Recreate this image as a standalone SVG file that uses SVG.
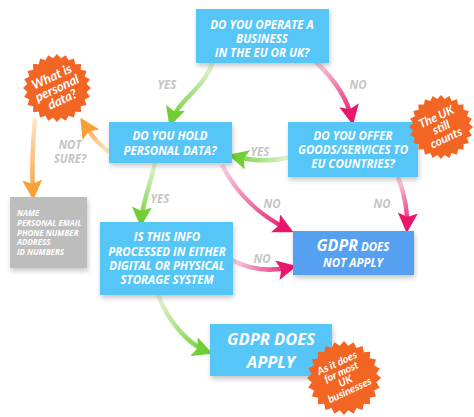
<svg xmlns="http://www.w3.org/2000/svg" width="474" height="417" viewBox="0 0 474 417">
<style>
.box{fill:#55C6F7}
.boxd{fill:#56A0F2}
.grey{fill:#BDBDBD}
.t{font-family:"Open Sans","DejaVu Sans",sans-serif;font-weight:bold;font-style:italic;fill:#fff;text-anchor:middle;font-size:11.5px}
.big{font-size:16.5px}
.g{font-family:"Open Sans","DejaVu Sans",sans-serif;font-weight:bold;font-style:italic;fill:#fff;font-size:8px}
.lab{font-family:"Open Sans","DejaVu Sans",sans-serif;font-weight:bold;font-style:italic;fill:#C4C4C4;text-anchor:middle;font-size:11.5px}
.s{font-family:"Lato","DejaVu Sans",sans-serif;font-weight:bold;font-style:italic;fill:#fff;text-anchor:middle}
.c{fill:none;stroke-width:4.5}
.burst{fill:#F26522}
</style>
<defs>
<filter id="sh" x="-20%" y="-20%" width="140%" height="150%"><feDropShadow dx="1" dy="3" stdDeviation="2.5" flood-color="#000" flood-opacity="0.22"/></filter>
<polygon id="burst" points="100,0 87.2,11.5 96.6,25.9 81.3,33.7 86.6,50 69.8,53.6 70.7,70.7 53.6,69.8 50,86.6 33.7,81.3 25.9,96.6 11.5,87.2 0,100 -11.5,87.2 -25.9,96.6 -33.7,81.3 -50,86.6 -53.6,69.8 -70.7,70.7 -69.8,53.6 -86.6,50 -81.3,33.7 -96.6,25.9 -87.2,11.5 -100,0 -87.2,-11.5 -96.6,-25.9 -81.3,-33.7 -86.6,-50 -69.8,-53.6 -70.7,-70.7 -53.6,-69.8 -50,-86.6 -33.7,-81.3 -25.9,-96.6 -11.5,-87.2 0,-100 11.5,-87.2 25.9,-96.6 33.7,-81.3 50,-86.6 53.6,-69.8 70.7,-70.7 69.8,-53.6 86.6,-50 81.3,-33.7 96.6,-25.9 87.2,-11.5"/>
<marker id="ag" markerUnits="userSpaceOnUse" markerWidth="22" markerHeight="22" refX="15" refY="10" orient="auto"><path d="M0,0 L20,10 L0,20 L4,10 z" fill="#6FCF35"/></marker>
<marker id="ap" markerUnits="userSpaceOnUse" markerWidth="22" markerHeight="22" refX="15" refY="10" orient="auto"><path d="M0,0 L20,10 L0,20 L4,10 z" fill="#E8176B"/></marker>
<marker id="ao" markerUnits="userSpaceOnUse" markerWidth="22" markerHeight="22" refX="15" refY="10" orient="auto"><path d="M0,0 L20,10 L0,20 L4,10 z" fill="#F8A035"/></marker>
<linearGradient id="g1" gradientUnits="userSpaceOnUse" x1="213" y1="62" x2="171" y2="123"><stop offset="0" stop-color="#E4F5D6"/><stop offset="1" stop-color="#6FCF35"/></linearGradient>
<linearGradient id="g2" gradientUnits="userSpaceOnUse" x1="316" y1="62" x2="352" y2="121"><stop offset="0" stop-color="#F6D3E1"/><stop offset="1" stop-color="#E8176B"/></linearGradient>
<linearGradient id="g3" gradientUnits="userSpaceOnUse" x1="290" y1="157" x2="232" y2="156"><stop offset="0" stop-color="#E4F5D6"/><stop offset="1" stop-color="#6FCF35"/></linearGradient>
<linearGradient id="g4" gradientUnits="userSpaceOnUse" x1="109" y1="152" x2="82" y2="121"><stop offset="0" stop-color="#FCE6CF"/><stop offset="1" stop-color="#F8A035"/></linearGradient>
<linearGradient id="g5" gradientUnits="userSpaceOnUse" x1="35" y1="118" x2="33" y2="196"><stop offset="0" stop-color="#FCE6CF"/><stop offset="1" stop-color="#F8A035"/></linearGradient>
<linearGradient id="g6" gradientUnits="userSpaceOnUse" x1="222" y1="165" x2="290" y2="231"><stop offset="0" stop-color="#F6D3E1"/><stop offset="1" stop-color="#E8176B"/></linearGradient>
<linearGradient id="g7" gradientUnits="userSpaceOnUse" x1="155" y1="163" x2="141" y2="223"><stop offset="0" stop-color="#E4F5D6"/><stop offset="1" stop-color="#6FCF35"/></linearGradient>
<linearGradient id="g8" gradientUnits="userSpaceOnUse" x1="232" y1="260" x2="293" y2="267"><stop offset="0" stop-color="#F6D3E1"/><stop offset="1" stop-color="#E8176B"/></linearGradient>
<linearGradient id="g9" gradientUnits="userSpaceOnUse" x1="398" y1="177" x2="407" y2="229"><stop offset="0" stop-color="#F6D3E1"/><stop offset="1" stop-color="#E8176B"/></linearGradient>
<linearGradient id="g10" gradientUnits="userSpaceOnUse" x1="158" y1="295" x2="209" y2="353"><stop offset="0" stop-color="#E4F5D6"/><stop offset="1" stop-color="#6FCF35"/></linearGradient>
</defs>

<g id="connectors">
<path class="c" stroke="url(#g1)" marker-end="url(#ag)" d="M213,62 C203,90 178,100 171,122"/>
<path class="c" stroke="url(#g2)" marker-end="url(#ap)" d="M316,62 C335,80 348,100 352,120"/>
<path class="c" stroke="url(#g3)" marker-end="url(#ag)" d="M290,157 C268,163 248,160 233,156"/>
<path class="c" stroke="url(#g4)" marker-end="url(#ao)" d="M109,152 C95,142 88,130 83,122"/>
<path class="c" stroke="url(#g5)" marker-end="url(#ao)" d="M35,118 C32,150 32,175 33,195"/>
<path class="c" stroke="url(#g6)" marker-end="url(#ap)" d="M222,165 C240,200 265,218 289,230"/>
<path class="c" stroke="url(#g7)" marker-end="url(#ag)" d="M155,163 C150,185 142,205 141,222"/>
<path class="c" stroke="url(#g8)" marker-end="url(#ap)" d="M232,260 C250,270 270,272 292,267"/>
<path class="c" stroke="url(#g9)" marker-end="url(#ap)" d="M398,177 C405,195 408,210 407,228"/>
<path class="c" stroke="url(#g10)" marker-end="url(#ag)" d="M158,295 C170,325 190,345 208,352"/>
<text class="lab" x="167" y="89">YES</text>
<text class="lab" x="358" y="89">NO</text>
<text class="lab" x="70" y="149">NOT</text>
<text class="lab" x="70" y="163">SURE?</text>
<text class="lab" x="260" y="156">YES</text>
<text class="lab" x="160" y="203">YES</text>
<text class="lab" x="272" y="208">NO</text>
<text class="lab" x="382" y="208">NO</text>
<text class="lab" x="262" y="263">NO</text>
</g>

<g id="q1"><rect class="box" x="196" y="9" width="133" height="54" filter="url(#sh)"/>
<text class="t" x="262" y="29">DO YOU OPERATE A</text><text class="t" x="262" y="43">BUSINESS</text><text class="t" x="262" y="57">IN THE EU OR UK?</text></g>

<g id="q2"><rect class="box" x="109" y="122" width="123" height="41" filter="url(#sh)"/>
<text class="t" x="170" y="140">DO YOU HOLD</text><text class="t" x="170" y="155">PERSONAL DATA?</text></g>

<g id="q3"><rect class="box" x="288" y="122" width="130" height="55" filter="url(#sh)"/>
<text class="t" x="353" y="140">DO YOU OFFER</text><text class="t" x="353" y="154">GOODS/SERVICES TO</text><text class="t" x="353" y="168">EU COUNTRIES?</text></g>

<g id="info"><rect class="grey" x="10" y="197" width="77" height="71" filter="url(#sh)"/>
<text class="g" x="17" y="216">NAME</text><text class="g" x="17" y="226">PERSONAL EMAIL</text><text class="g" x="17" y="235.5">PHONE NUMBER</text><text class="g" x="17" y="245">ADDRESS</text><text class="g" x="17" y="255">ID NUMBERS</text></g>

<g id="q4"><rect class="box" x="100" y="222" width="133" height="73" filter="url(#sh)"/>
<text class="t" x="167" y="241">IS THIS INFO</text><text class="t" x="167" y="256">PROCESSED IN EITHER</text><text class="t" x="167" y="270">DIGITAL OR PHYSICAL</text><text class="t" x="167" y="284">STORAGE SYSTEM</text></g>

<g id="noapply"><rect class="boxd" x="293" y="231" width="121" height="44" filter="url(#sh)"/>
<text class="t" x="353" y="251"><tspan style="font-size:16px">GDPR</tspan><tspan style="font-size:11.5px"> DOES</tspan></text><text class="t" x="353" y="267">NOT APPLY</text></g>

<g id="apply"><rect class="box" x="210" y="324" width="122" height="52" filter="url(#sh)"/>
<text class="t big" x="271" y="345">GDPR DOES</text><text class="t big" x="271" y="368">APPLY</text></g>

<g id="burst1"><use href="#burst" class="burst" transform="translate(57,88) scale(0.34)"/>
<g transform="translate(57,88) rotate(-25)"><text class="s" x="0" y="-8" font-size="13">What is</text><text class="s" x="0" y="4.5" font-size="13">personal</text><text class="s" x="0" y="17" font-size="13">data?</text></g></g>

<g id="burst2"><use href="#burst" class="burst" transform="translate(441,127) scale(0.32)"/>
<g transform="translate(441,127) rotate(-25)"><text class="s" x="0" y="-7" font-size="12">The UK</text><text class="s" x="0" y="4.5" font-size="12">still</text><text class="s" x="0" y="16" font-size="12">counts</text></g></g>

<g id="burst3"><use href="#burst" class="burst" transform="translate(344,378) scale(0.37)"/>
<g transform="translate(344,378) rotate(-25)"><text class="s" x="0" y="-13" font-size="10.5">As it does</text><text class="s" x="0" y="-3" font-size="10.5">for most</text><text class="s" x="0" y="7" font-size="10.5">UK</text><text class="s" x="0" y="17" font-size="10.5">businesses</text></g></g>
</svg>
